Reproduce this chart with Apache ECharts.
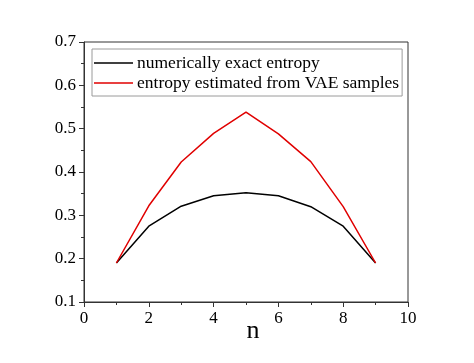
<!DOCTYPE html>
<html><head><meta charset="utf-8">
<script src="https://cdn.jsdelivr.net/npm/echarts@6/dist/echarts.min.js"></script>
<style>html,body{margin:0;padding:0;background:#fff}#c{width:474px;height:363px}</style>
</head><body><div id="c"></div>
<script>
const nValues = [1, 2, 3, 4, 5, 6, 7, 8, 9];
const exactEntropy = [0.19, 0.275, 0.321, 0.345, 0.352, 0.345, 0.32, 0.275, 0.19];
const vaeEntropy = [0.19, 0.322, 0.423, 0.489, 0.538, 0.488, 0.424, 0.32, 0.19];
const seriesNames = ['numerically exact entropy', 'entropy estimated from VAE samples'];

const font = 'Liberation Serif';
const chart = echarts.init(document.getElementById('c'));
chart.setOption({
  animation: false,
  backgroundColor: '#fff',
  grid: {left: 84, right: 66, top: 42, bottom: 61, show: true, borderColor: '#333', borderWidth: 1},
  legend: {
    orient: 'vertical', left: 92, top: 49,
    padding: [4, 3, 3, 2], itemGap: 0, itemWidth: 39, itemHeight: 1.5,
    icon: 'rect',
    borderColor: '#9a9a9a', borderWidth: 1,
    textStyle: {fontFamily: font, fontSize: 17.5, lineHeight: 20, color: '#000', padding: [0, 0, 0, -1]},
    data: seriesNames
  },
  xAxis: {
    type: 'value', min: 0, max: 10, interval: 2,
    name: 'n', nameLocation: 'middle', nameGap: 16, nameMoveOverlap: false,
    nameTextStyle: {fontFamily: font, fontSize: 26, color: '#000', padding: [0, 0, 0, 14]},
    axisLine: {show: true, lineStyle: {color: '#333'}},
    axisTick: {show: true, inside: false, length: 5, lineStyle: {color: '#333'}},
    minorTick: {show: true, splitNumber: 2, length: 3, lineStyle: {color: '#333'}},
    splitLine: {show: false},
    axisLabel: {fontFamily: font, fontSize: 17, color: '#000', margin: 8}
  },
  yAxis: {
    type: 'value', min: 0.1, max: 0.7, interval: 0.1,
    axisLine: {show: true, lineStyle: {color: '#333'}},
    axisTick: {show: true, inside: false, length: 5, lineStyle: {color: '#333'}},
    minorTick: {show: true, splitNumber: 2, length: 3, lineStyle: {color: '#333'}},
    splitLine: {show: false},
    axisLabel: {fontFamily: font, fontSize: 17, color: '#000', margin: 8,
      formatter: v => v.toFixed(1)}
  },
  series: [
    {name: seriesNames[0], type: 'line', symbol: 'none', color: '#000',
     lineStyle: {color: '#000', width: 1.5},
     data: nValues.map((n, i) => [n, exactEntropy[i]])},
    {name: seriesNames[1], type: 'line', symbol: 'none', color: '#e00000',
     lineStyle: {color: '#e00000', width: 1.5},
     data: nValues.map((n, i) => [n, vaeEntropy[i]])}
  ]
});
</script></body></html>
